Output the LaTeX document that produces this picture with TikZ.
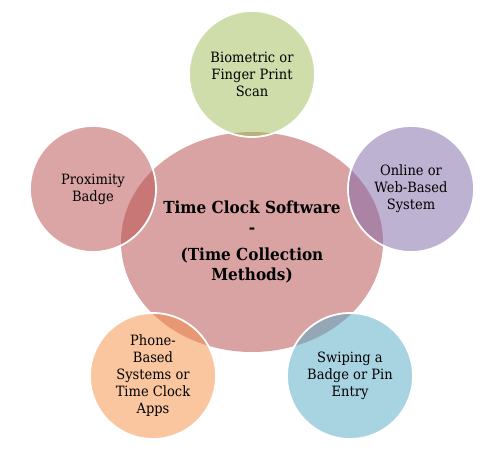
\documentclass[tikz,border=0pt]{standalone}
\usepackage{fontspec}
\setmainfont{DejaVu Serif}[FakeStretch=0.92]
\usetikzlibrary{shapes.geometric}
\definecolor{hubfill}{RGB}{218,163,163}
\definecolor{cprox}{RGB}{183,75,75}
\definecolor{cweb}{RGB}{125,101,165}
\definecolor{cbio}{RGB}{159,187,85}
\definecolor{cphone}{RGB}{245,141,65}
\definecolor{cswipe}{RGB}{81,169,197}
\tikzset{
  satellite/.style={circle, minimum size=126pt, inner sep=0pt, draw=white,
    line width=1.8pt, fill opacity=0.5, text opacity=1, align=center,
    font=\fontsize{14.2}{17}\selectfont, text=black},
  hub/.style={ellipse, minimum width=262pt, minimum height=220pt, inner sep=0pt,
    fill=hubfill, align=center, font=\fontsize{16.6}{19.5}\selectfont\bfseries}
}
\begin{document}
\begin{tikzpicture}[x=1pt,y=-1pt]
\useasboundingbox (0,0) rectangle (502,457);
\node[hub] (hub) at (252,242) {Time Clock Software\\-\\[8pt](Time Collection\\Methods)};
\node[satellite, fill=cbio] (bio) at (252,74) {Biometric or\\Finger Print\\Scan};
\node[satellite, fill=cprox] (prox) at (93,189) {Proximity\\Badge};
\node[satellite, fill=cweb] (web) at (411,189) {Online or\\Web-Based\\System};
\node[satellite, fill=cphone] (phone) at (153,376) {Phone-\\Based\\Systems or\\Time Clock\\Apps};
\node[satellite, fill=cswipe] (swipe) at (350,376) {Swiping a\\Badge or Pin\\Entry};
\end{tikzpicture}
\end{document}
